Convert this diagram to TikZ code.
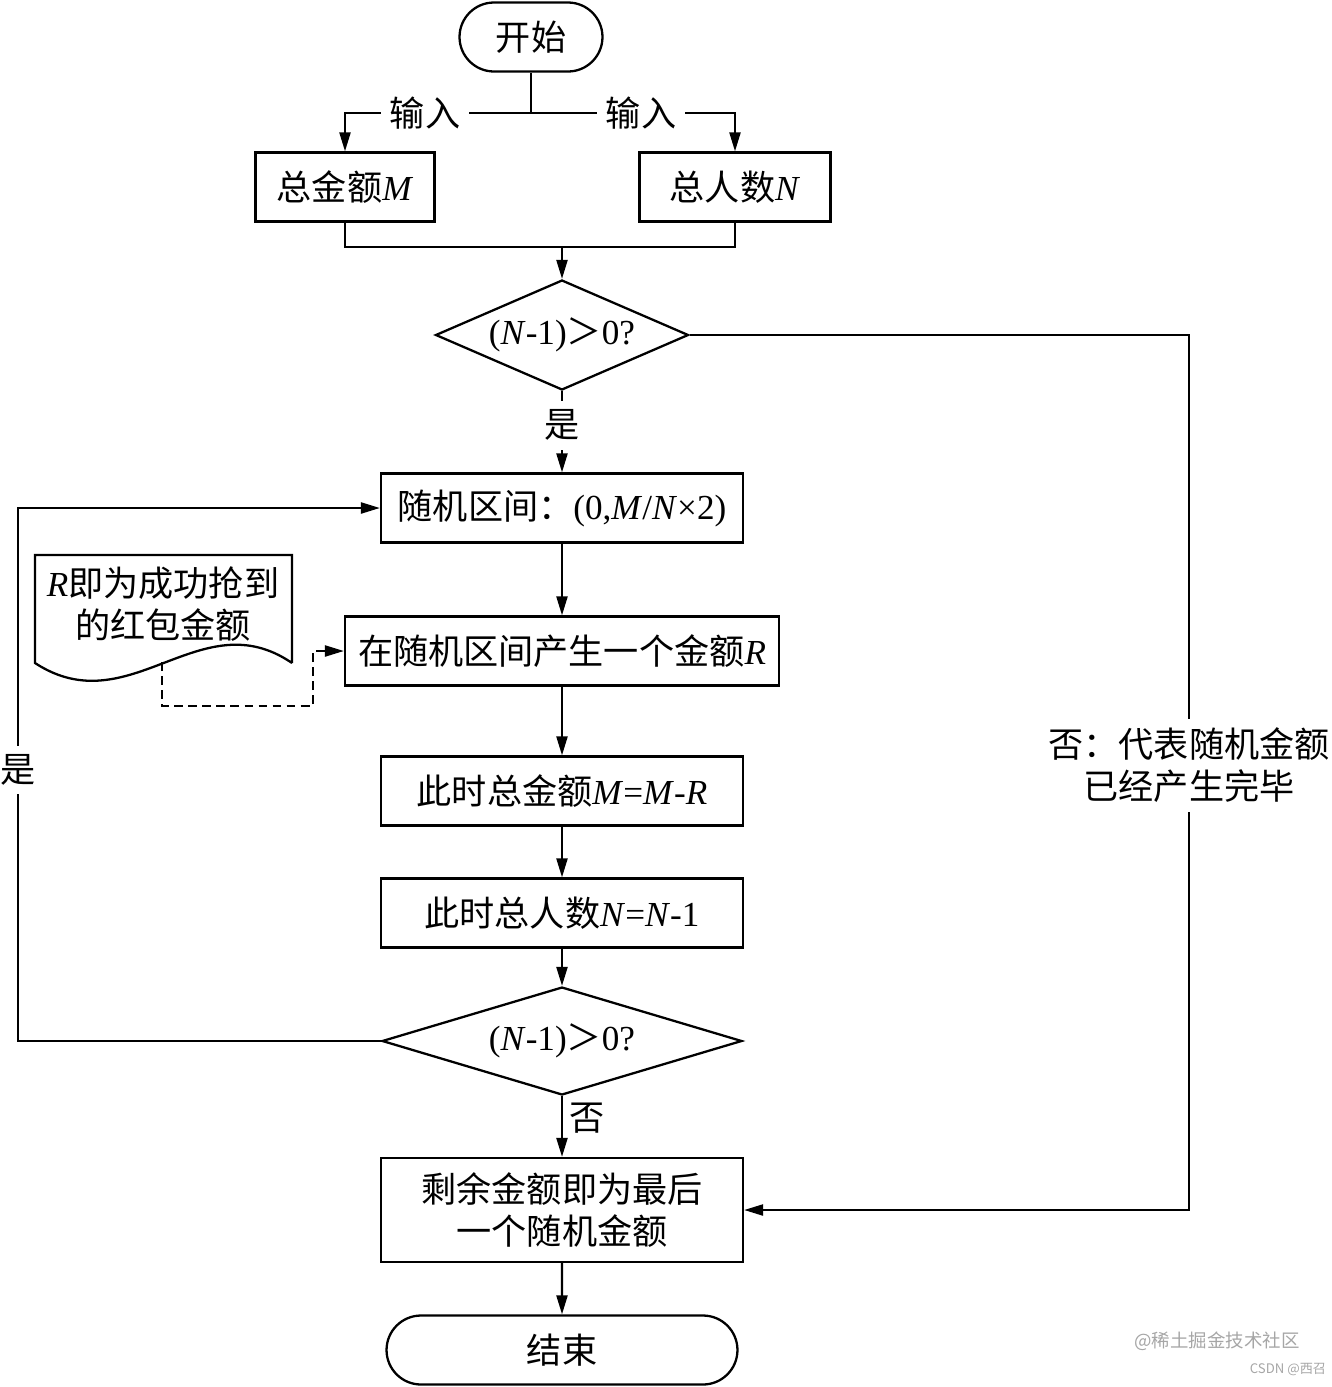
\documentclass[tikz,border=0pt]{standalone}
\usepackage{fontspec}
\setmainfont{Liberation Serif}
\newfontfamily\cjk{Noto Sans CJK SC}
\usetikzlibrary{arrows.meta,shapes.geometric,shapes.misc}

\begin{document}
\begin{tikzpicture}[x=0.02cm, y=-0.02cm, >={Triangle[length=0.38cm,width=0.22cm]}, line width=1.3pt,
        every node/.style={font=\fontsize{20}{24}\selectfont},
        zh/.style={font=\fontsize{20}{24}\cjk},
        terminal/.style={draw, rounded rectangle, minimum height=1.38cm, inner sep=0pt},
        process/.style={draw, rectangle, minimum height=1.38cm, inner sep=0pt},
        decision/.style={draw, diamond, aspect=2.3, inner sep=0pt},
        cover/.style={fill=white, inner sep=5pt}]
        \useasboundingbox (0,0) rectangle (1332,1387);

        % nodes
        \node[terminal, zh, minimum width=2.86cm] (start) at (531,37) {开始};
        \node[process, minimum width=3.58cm] (M) at (345,187) {{\cjk 总金额}\textit{M}};
        \node[process, minimum width=3.82cm] (N) at (735,187) {{\cjk 总人数}\textit{N}};
        \node[decision, minimum width=5.06cm, minimum height=2.2cm] (test1) at (562,335) {(\textit{N}-1){\cjk ＞}0?};
        \node[process, minimum width=7.24cm] (range) at (562,508) {{\cjk 随机区间：}(0,\textit{M}/\textit{N}×2)};
        \node[process, minimum width=8.68cm] (pick) at (562,651) {{\cjk 在随机区间产生一个金额}\textit{R}};
        \node[process, minimum width=7.24cm] (subM) at (562,791) {{\cjk 此时总金额}\textit{M}=\textit{M}-\textit{R}};
        \node[process, minimum width=7.24cm] (subN) at (562,913) {{\cjk 此时总人数}\textit{N}=\textit{N}-1};
        \node[decision, minimum width=7.2cm, minimum height=2.16cm] (test2) at (562,1041) {(\textit{N}-1){\cjk ＞}0?};
        \node[process, zh, align=center, minimum width=7.24cm, minimum height=2.08cm] (last) at (562,1210) {剩余金额即为最后\\一个随机金额};
        \node[terminal, zh, minimum width=7.02cm] (stop) at (562,1350) {结束};

        % note sheet
        \draw (292,663) -- (292,555) -- (35,555) -- (35,663) .. controls (130,725) and (200,600) .. (292,663);
        \node[zh, align=center] (note) at (163,604) {{\rmfamily\itshape R}即为成功抢到\\的红包金额};
        \coordinate (notefoot) at (162,662);

        % inputs
        \draw (start.south) -- (531,113) coordinate (split);
        \draw[->] (split) -| (M.north);
        \draw[->] (split) -| (N.north);
        \node[cover, zh] (inM) at (425,113) {输入};
        \node[cover, zh] (inN) at (641,113) {输入};
        \coordinate (join) at (562,247);
        \draw (M.south) -- (345,247) -| (N.south);
        \draw[->] (join) -- (test1.north);

        % main chain
        \draw[->] (test1.south) -- node[cover, zh, pos=0.42] {是} (range.north);
        \draw[->] (range) -- (pick);
        \draw[->] (pick) -- (subM);
        \draw[->] (subM) -- (subN);
        \draw[->] (subN) -- (test2.north);
        \draw[->] (test2.south) -- node[right, zh, pos=0.37] {否} (last.north);
        \draw[->] (last) -- (stop);

        % loops
        \draw[->] (test2.west) -- (18,1041) |- node[cover, zh, pos=0.254] {是} (range.west);
        \draw[->] (test1.east) -- (1189,335) |- node[cover, zh, align=center, pos=0.246] {否：代表随机金额\\已经产生完毕} (last.east);
        \draw[->, dash pattern=on 5pt off 3pt] (notefoot) -- (162,706) -| (313,651) -- (pick.west);

        % watermark
        \node[font=\fontsize{10.5}{12}\cjk, text=gray!70] (mark) at (1217,1341) {@稀土掘金技术社区};
        \node[font=\fontsize{7.5}{9}\cjk, text=gray!70] (csdn) at (1288,1370) {CSDN @西召};
    \end{tikzpicture}
\end{document}
